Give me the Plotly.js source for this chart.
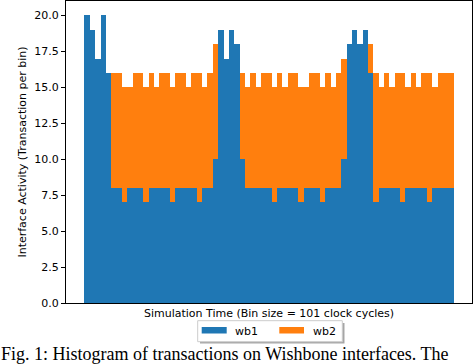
<!DOCTYPE html>
<html>
<head>
<meta charset="utf-8">
<script src="https://cdn.plot.ly/plotly-3.0.1.min.js"></script>
<style>
html,body{margin:0;padding:0;background:#fff;}
#chart{width:474px;height:364px;}
</style>
</head>
<body>
<div id="chart"></div>
<script>
// Bin index (each bin = 101 clock cycles)
const bins = Array.from({length: 69}, (_, i) => i);
// wb1 transactions per bin
const wb1 = [20,19,17,20,16, 8,8,7,8,8, 8,7,8,8,8, 8,7,8,8,8,
             8,7,8,8,10,19,17,19,18,10, 8,8,8,8,8, 7,8,8,8,8,
             7,8,8,8,7, 8,8,8,10,18,19,18,19,16, 7,8,8,8,8,
             7,8,8,8,8, 7,8,8,8,8];
// stacked total (wb1 + wb2) per bin
const total = [20,19,17,20,16, 16,16,15,15,16, 16,15,16,15,16, 16,15,16,16,15,
               16,16,15,16,18,19,17,19,18,16, 15,16,15,16,16, 15,16,15,16,16,
               15,15,16,16,15, 16,15,16,17,18,19,18,19,18, 16,15,16,15,16,
               16,15,16,15,16, 16,15,16,16,16];
const wb2 = total.map((t, i) => t - wb1[i]);

const yTicks = [0, 2.5, 5, 7.5, 10, 12.5, 15, 17.5, 20];
const yTickText = ["0.0","2.5","5.0","7.5","10.0","12.5","15.0","17.5","20.0"];
const xTitle = "Simulation Time (Bin size = 101 clock cycles)";
const yTitle = "Interface Activity (Transaction per bin)";
const seriesNames = ["wb1", "wb2"];
const colors = ["#1f77b4", "#ff7f0e"];
const caption = "Fig. 1: Histogram of transactions on Wishbone interfaces. The";

const n = bins.length;
const pad = 0.05 * n;

const data = [
  {type: "bar", x: bins, y: wb1, name: seriesNames[0], marker: {color: colors[0], line: {width: 0}}, showlegend: false},
  {type: "bar", x: bins, y: wb2, name: seriesNames[1], marker: {color: colors[1], line: {width: 0}}, showlegend: false}
];

// paper coords helpers: plot area spans px x 66..472, y 1..303
const L = 66, R = 472, T = 1, B = 303;
const px = v => (v - L) / (R - L);
const py = v => (B - v) / (B - T);

const shapes = [
  // legend shadow
  {type: "rect", xref: "paper", yref: "paper", x0: px(200), x1: px(344.5), y0: py(343.5), y1: py(323), fillcolor: "rgba(0,0,0,0.35)", line: {width: 0}, layer: "above"},
  // legend box
  {type: "rect", xref: "paper", yref: "paper", x0: px(197.7), x1: px(342.3), y0: py(341.7), y1: py(320.7), fillcolor: "#ffffff", line: {color: "#cccccc", width: 1}, layer: "above"},
  {type: "rect", xref: "paper", yref: "paper", x0: px(201.7), x1: px(226.7), y0: py(333.5), y1: py(327), fillcolor: colors[0], line: {width: 0}, layer: "above"},
  {type: "rect", xref: "paper", yref: "paper", x0: px(279.3), x1: px(304), y0: py(333.5), y1: py(327), fillcolor: colors[1], line: {width: 0}, layer: "above"}
];

const annotations = [
  {xref: "paper", yref: "paper", x: px(233), y: py(331), text: seriesNames[0], showarrow: false, xanchor: "left", yanchor: "middle", font: {family: "DejaVu Sans", size: 11, color: "#000"}},
  {xref: "paper", yref: "paper", x: px(311), y: py(331), text: seriesNames[1], showarrow: false, xanchor: "left", yanchor: "middle", font: {family: "DejaVu Sans", size: 11, color: "#000"}},
  {xref: "paper", yref: "paper", x: px(0), y: py(342.5), text: caption, showarrow: false, xanchor: "left", yanchor: "top", borderpad: 0, font: {family: "Liberation Serif", size: 18, color: "#000"}}
];

const layout = {
  width: 474, height: 364,
  margin: {l: L, r: 474 - R, t: T, b: 364 - B},
  paper_bgcolor: "#fff", plot_bgcolor: "#fff",
  barmode: "stack", bargap: 0,
  showlegend: false,
  font: {family: "DejaVu Sans", size: 11, color: "#000"},
  xaxis: {
    range: [-0.5 - pad, n - 0.5 + pad],
    showticklabels: false, ticks: "", showgrid: false, zeroline: false,
    showline: true, mirror: true, linecolor: "#000", linewidth: 1,
    title: {text: xTitle, font: {family: "DejaVu Sans", size: 11, color: "#000"}, standoff: 6}
  },
  yaxis: {
    range: [0, 21],
    tickvals: yTicks, ticktext: yTickText,
    ticks: "outside", ticklen: 4, tickwidth: 1, tickcolor: "#000",
    showgrid: false, zeroline: false,
    showline: true, mirror: true, linecolor: "#000", linewidth: 1,
    tickfont: {family: "DejaVu Sans", size: 11, color: "#000"},
    title: {text: yTitle, font: {family: "DejaVu Sans", size: 11, color: "#000"}, standoff: 5}
  },
  shapes: shapes,
  annotations: annotations
};

Plotly.newPlot("chart", data, layout, {staticPlot: true, displayModeBar: false});
</script>
</body>
</html>
